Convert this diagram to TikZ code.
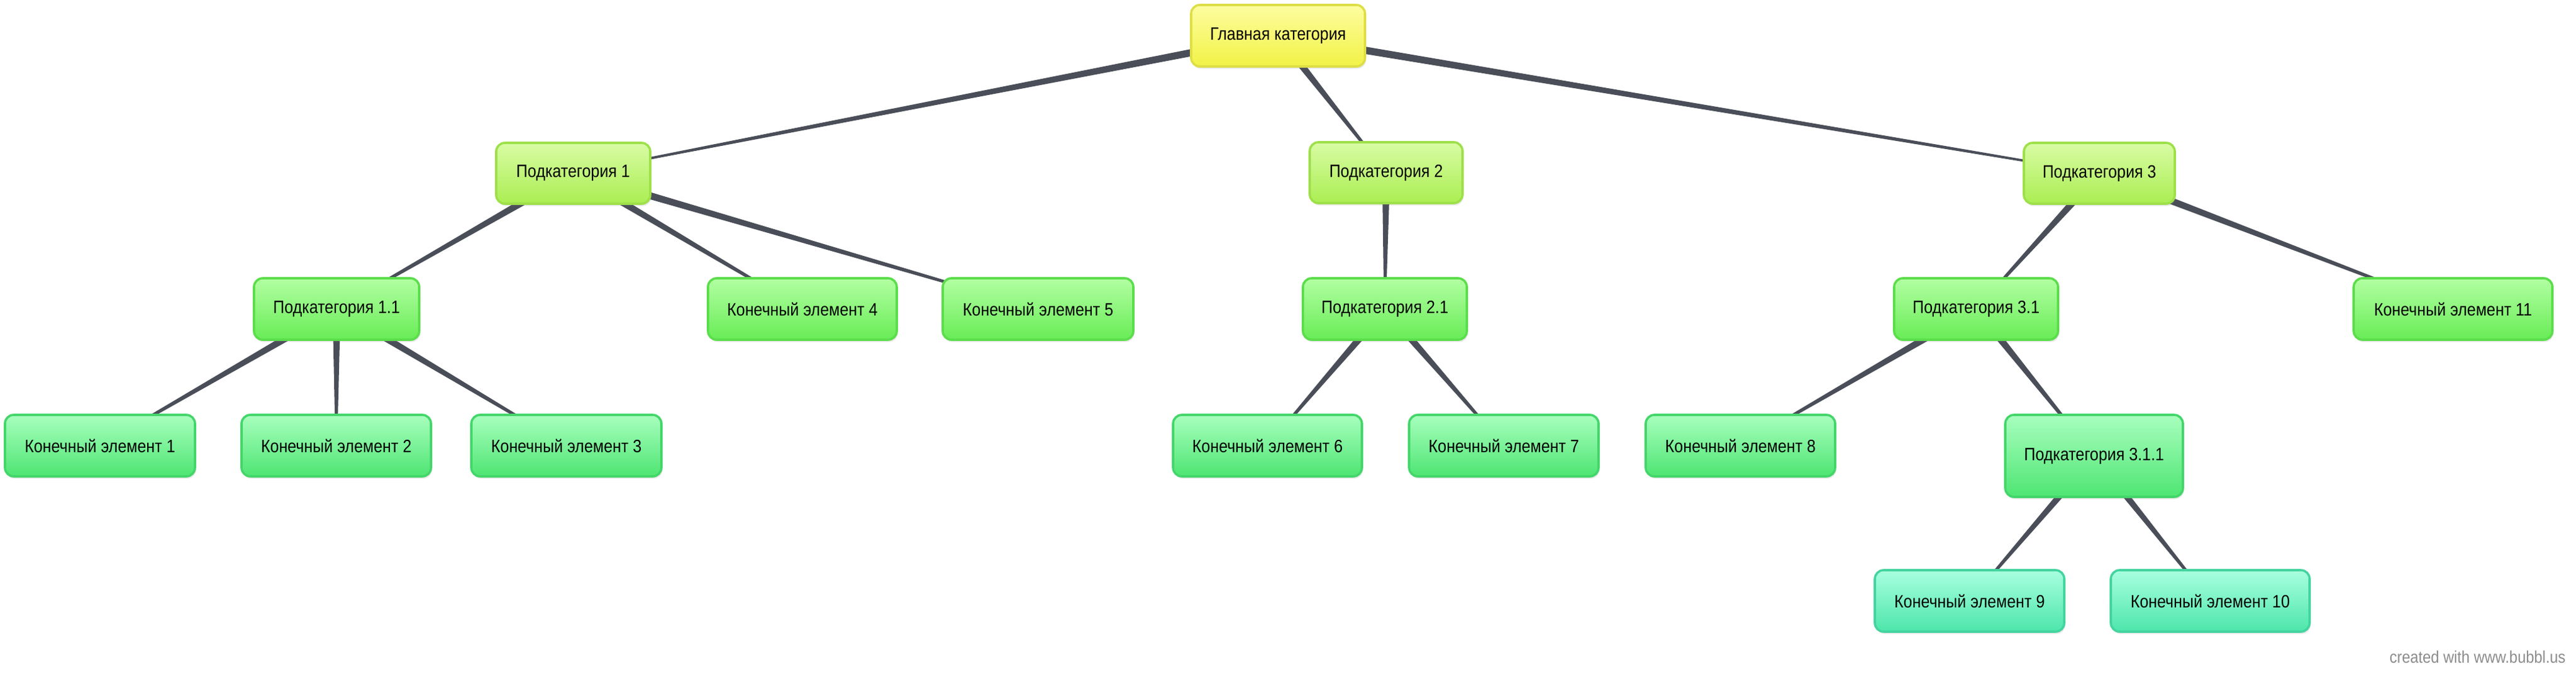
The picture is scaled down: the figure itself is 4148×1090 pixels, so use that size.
\documentclass[tikz,border=0pt]{standalone}
\usepackage{fontspec}
\setmainfont[FakeStretch=0.88]{Liberation Sans}
\usetikzlibrary{calc,backgrounds,shadows}
\definecolor{edge}{HTML}{4A4E58}
\tikzset{
  box/.style={rounded corners=3.5pt,line width=0.9pt,inner sep=0pt,outer sep=0pt,font=\fontsize{7.2}{8}\selectfont,
    drop shadow={opacity=0.18,shadow xshift=0.4pt,shadow yshift=-0.9pt}},
  lv0/.style={draw={rgb,255:red,222;green,222;blue,70},top color={rgb,255:red,253;green,253;blue,160},bottom color={rgb,255:red,242;green,242;blue,70}},
  lv1/.style={draw={rgb,255:red,158;green,224;blue,74},top color={rgb,255:red,216;green,252;blue,164},bottom color={rgb,255:red,170;green,238;blue,82}},
  lv2/.style={draw={rgb,255:red,92;green,221;blue,76},top color={rgb,255:red,178;green,255;blue,162},bottom color={rgb,255:red,104;green,236;blue,86}},
  lv3/.style={draw={rgb,255:red,68;green,214;blue,106},top color={rgb,255:red,168;green,255;blue,190},bottom color={rgb,255:red,78;green,229;blue,115}},
  lv4/.style={draw={rgb,255:red,68;green,212;blue,160},top color={rgb,255:red,168;green,255;blue,224},bottom color={rgb,255:red,77;green,230;blue,170}},
}
\newcommand\nd[7]{\node[box,#2,minimum width={(#5-#3)*0.25pt},minimum height={(#6-#4)*0.25pt}] (#1) at ({(#3+#5)/2},{(#4+#6)/2}) {#7};}
\newcommand\tp[2]{\path let \p1=($(#2)-(#1)$), \n1={atan2(\y1,\x1)} in [fill=edge] ($(#1)+(\n1+90:1.6pt)$) -- ($(#2)+(\n1+90:0.35pt)$) -- ($(#2)+(\n1-90:0.35pt)$) -- ($(#1)+(\n1-90:1.6pt)$) -- cycle;}
\begin{document}
\begin{tikzpicture}[x=0.25pt,y=-0.25pt]
\useasboundingbox (0,0) rectangle (4148,1090);
\nd{g}{lv0}{1918}{8}{2198}{107}{Главная категория}
\nd{s1}{lv1}{799}{230}{1047}{328}{Подкатегория 1}
\nd{s2}{lv1}{2109}{229}{2355}{327}{Подкатегория 2}
\nd{s3}{lv1}{3259}{230}{3502}{328}{Подкатегория 3}
\nd{s11}{lv2}{409}{448}{675}{547}{Подкатегория 1.1}
\nd{k4}{lv2}{1140}{448}{1444}{547}{Конечный элемент 4}
\nd{k5}{lv2}{1518}{448}{1825}{547}{Конечный элемент 5}
\nd{s21}{lv2}{2098}{448}{2362}{547}{Подкатегория 2.1}
\nd{s31}{lv2}{3050}{448}{3314}{547}{Подкатегория 3.1}
\nd{k11}{lv2}{3790}{448}{4110}{547}{Конечный элемент 11}
\nd{k1}{lv3}{8}{668}{314}{767}{Конечный элемент 1}
\nd{k2}{lv3}{389}{668}{694}{767}{Конечный элемент 2}
\nd{k3}{lv3}{759}{668}{1065}{767}{Конечный элемент 3}
\nd{k6}{lv3}{1889}{668}{2193}{767}{Конечный элемент 6}
\nd{k7}{lv3}{2269}{668}{2574}{767}{Конечный элемент 7}
\nd{k8}{lv3}{2650}{668}{2955}{767}{Конечный элемент 8}
\nd{s311}{lv3}{3229}{668}{3515}{800}{Подкатегория 3.1.1}
\nd{k9}{lv4}{3019}{918}{3324}{1017}{Конечный элемент 9}
\nd{k10}{lv4}{3399}{918}{3719}{1017}{Конечный элемент 10}
\node[anchor=east,text={rgb,255:red,140;green,140;blue,140},font=\fontsize{6.8}{8}\selectfont,inner sep=0pt] (cr) at (4132,1058) {created with www.bubbl.us};
\begin{scope}[on background layer]
\tp{g}{s1}\tp{g}{s2}\tp{g}{s3}
\tp{s1}{s11}\tp{s1}{k4}\tp{s1}{k5}
\tp{s11}{k1}\tp{s11}{k2}\tp{s11}{k3}
\tp{s2}{s21}\tp{s21}{k6}\tp{s21}{k7}
\tp{s3}{s31}\tp{s3}{k11}
\tp{s31}{k8}\tp{s31}{s311}
\tp{s311}{k9}\tp{s311}{k10}
\end{scope}
\end{tikzpicture}
\end{document}
